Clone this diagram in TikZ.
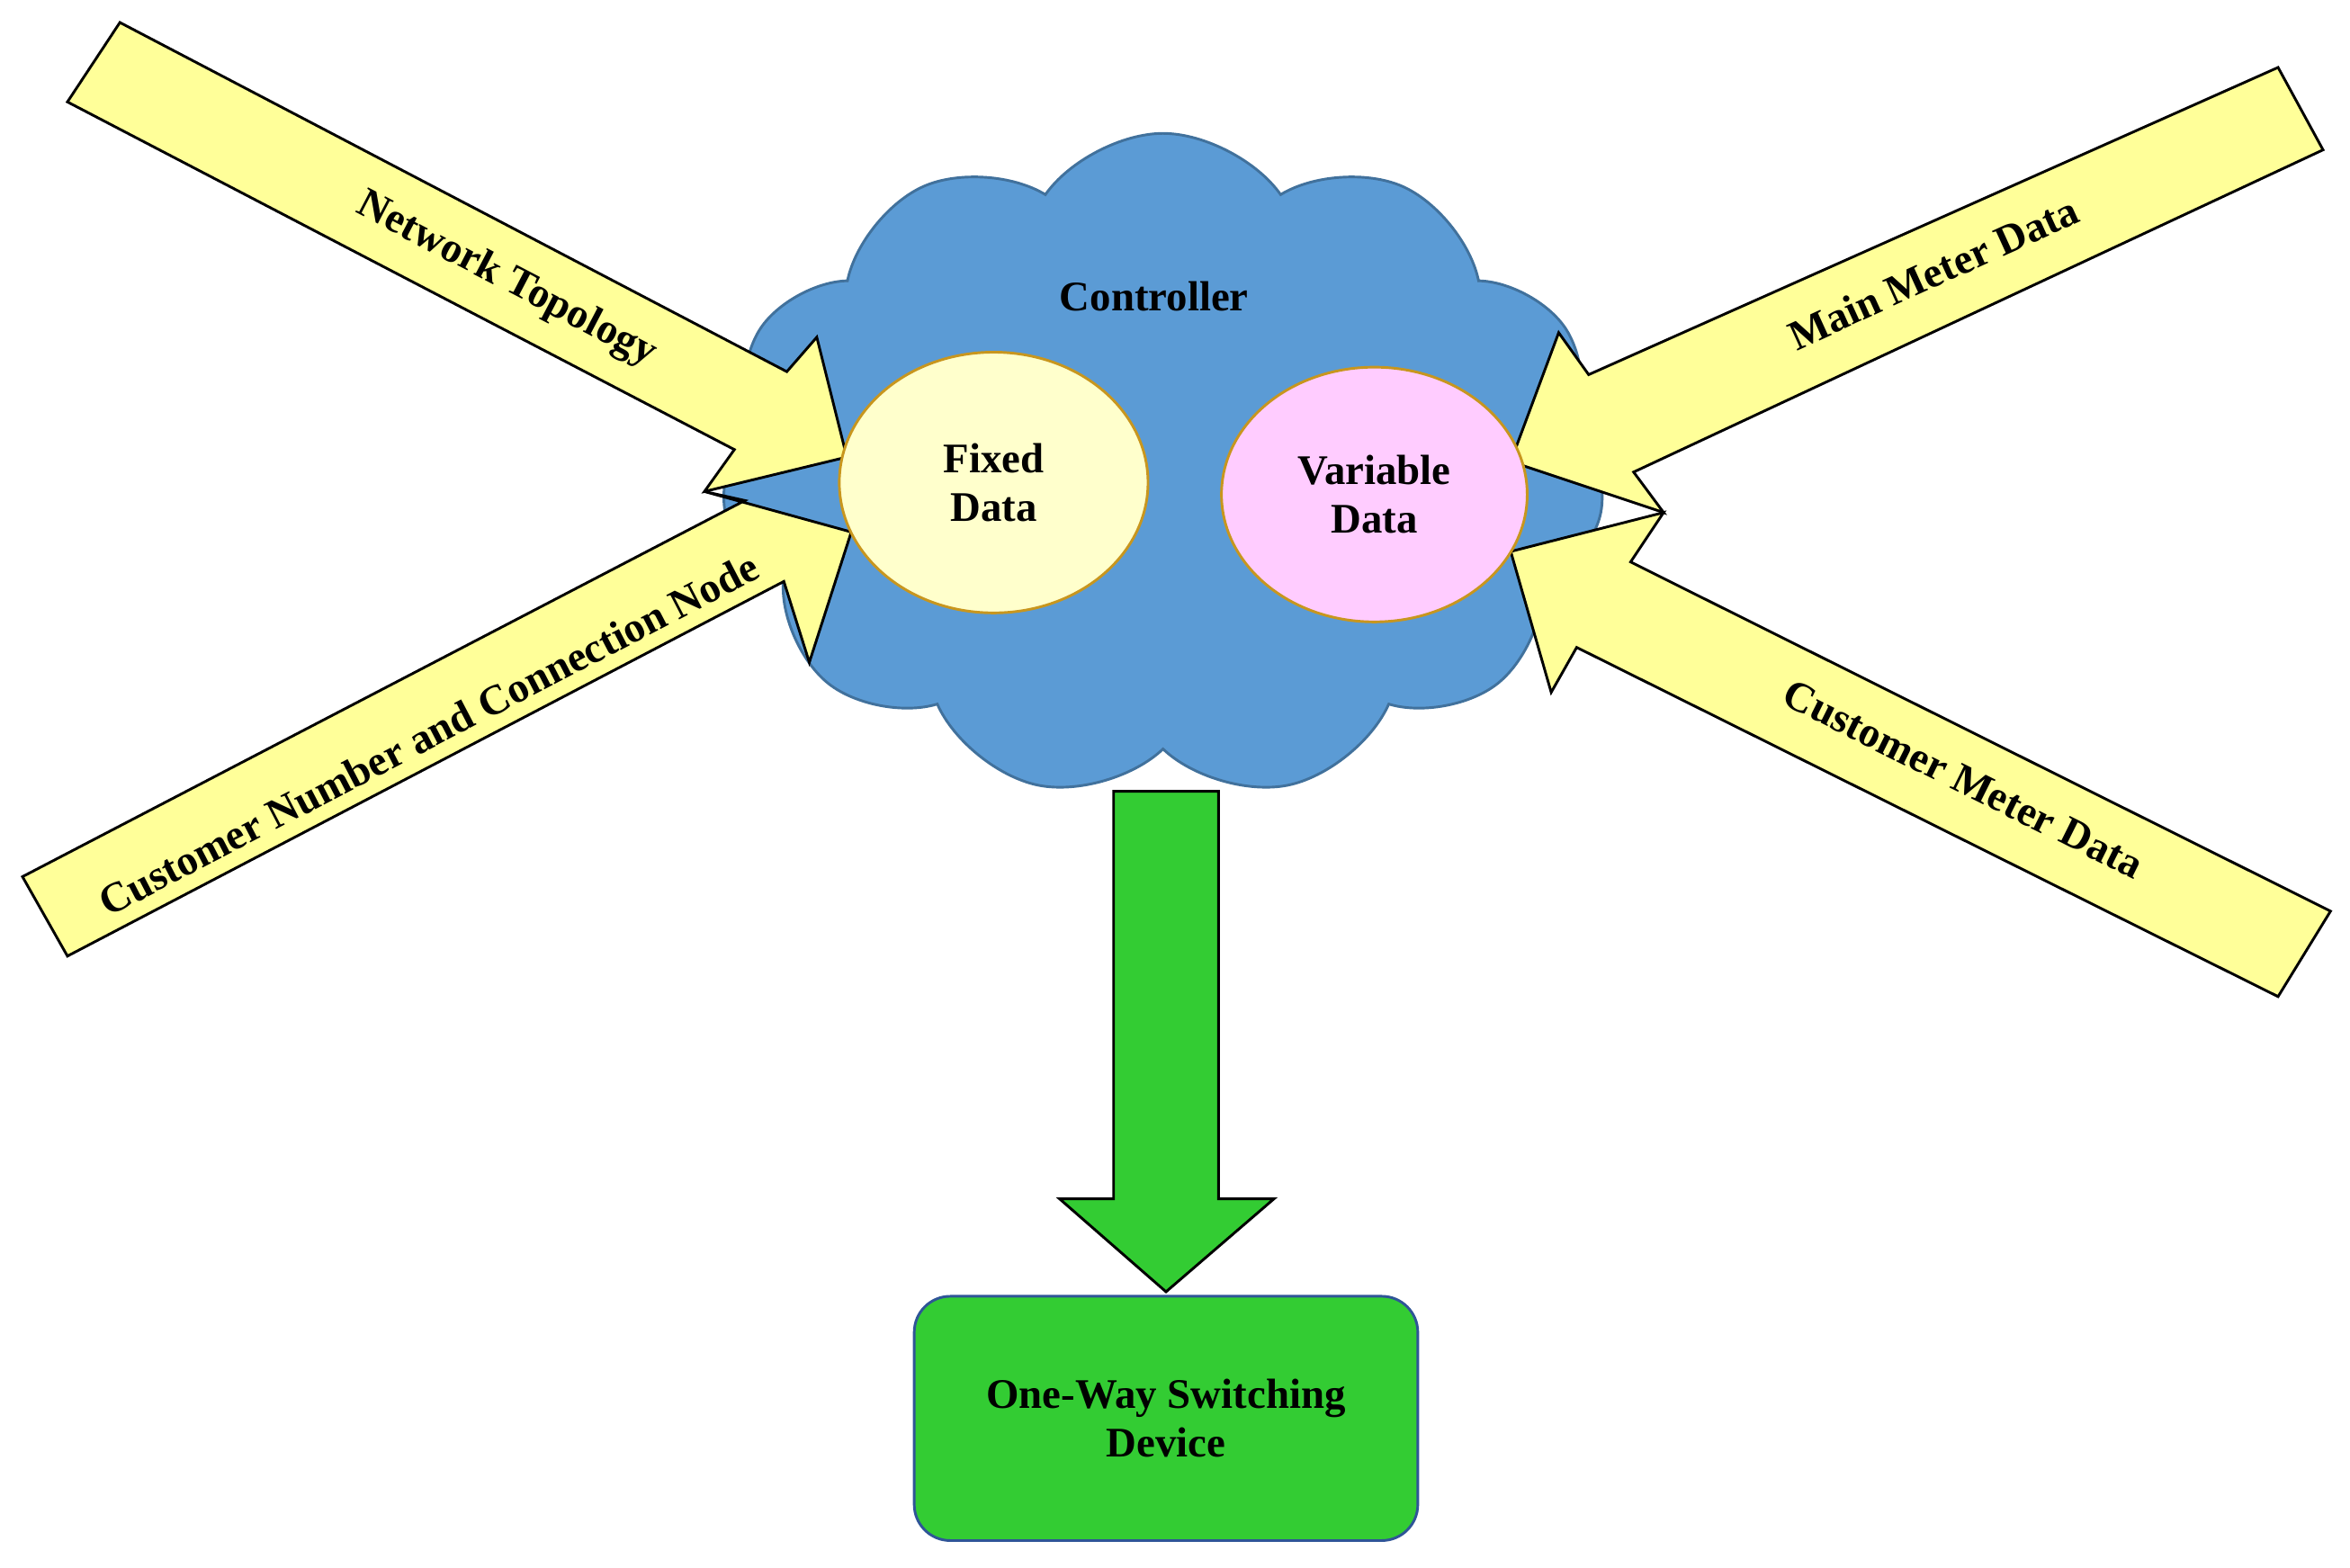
\documentclass[tikz,border=0pt]{standalone}
\usepackage{fontspec}
\setmainfont{Liberation Serif}
\usetikzlibrary{shapes.symbols,shapes.geometric}
\definecolor{cloudb}{HTML}{5B9BD5}
\definecolor{cloudd}{HTML}{41719C}
\definecolor{yel}{HTML}{FFFF99}
\definecolor{fixc}{HTML}{FFFFCC}
\definecolor{varc}{HTML}{FFCCFF}
\definecolor{ellb}{HTML}{C8961E}
\definecolor{grn}{HTML}{33CC33}
\definecolor{boxb}{HTML}{2F5597}
\begin{document}
\begin{tikzpicture}[x=0.05cm,y=-0.05cm,
  lbl/.style={font=\fontsize{40}{46}\selectfont\bfseries,align=center},
  yarrow/.style={fill=yel,draw=black,line width=2.5pt,line join=miter},
  ell/.style={ellipse,draw=ellb,line width=2.5pt,lbl}]
\useasboundingbox (0,0) rectangle (1568,1046);
% cloud
\node[cloud,cloud puffs=11,cloud puff arc=110,aspect=1.4,fill=cloudb,draw=cloudd,line width=2.5pt,
  minimum width=29.5cm,minimum height=22.2cm,inner sep=0pt] (cloud) at (776,311) {};
\node[lbl] (ctrl) at (770,198) {Controller};
% yellow arrows
\draw[yarrow] (80,15) -- (525,248) -- (545,225) -- (565,305) -- (470,328) -- (490,300) -- (45,68) -- cycle;
\draw[yarrow] (15,585) -- (497,334) -- (470,328) -- (568,355) -- (540,442) -- (523,388) -- (45,638) -- cycle;
\draw[yarrow] (1520,45) -- (1060,250) -- (1040,222) -- (1008,308) -- (1110,342) -- (1090,315) -- (1550,100) -- cycle;
\draw[yarrow] (1555,608) -- (1088,375) -- (1110,342) -- (1008,368) -- (1035,462) -- (1052,432) -- (1520,665) -- cycle;
\node[lbl,rotate=-27.6] (nt) at (338,187) {Network Topology};
\node[lbl,rotate=27.5] (cn) at (286,490) {Customer Number and Connection Node};
\node[lbl,rotate=24.5] (mm) at (1290,182) {Main Meter Data};
\node[lbl,rotate=-26.5] (cm) at (1310,520) {Customer Meter Data};
% ellipses
\node[ell,fill=fixc,minimum width=10.3cm,minimum height=8.7cm] (fixed) at (663,322) {Fixed\\Data};
\node[ell,fill=varc,minimum width=10.2cm,minimum height=8.5cm] (var) at (917,330) {Variable\\Data};
% green arrow
\draw[fill=grn,draw=black,line width=2.5pt] (743,528) -- (813,528) -- (813,800) -- (850,800) -- (778,862) -- (707,800) -- (743,800) -- cycle;
% box
\node[draw=boxb,fill=grn,line width=2.5pt,rounded corners=1.2cm,minimum width=16.8cm,minimum height=8.15cm,lbl] (dev) at (778,946.5) {One-Way Switching\\Device};
\end{tikzpicture}
\end{document}
